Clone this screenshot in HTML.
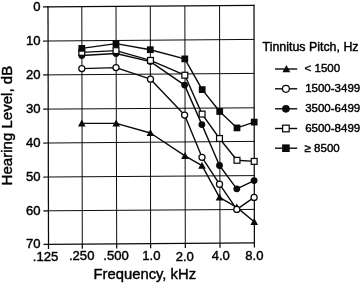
<!DOCTYPE html>
<html><head><meta charset="utf-8"><title>Hearing Level by Tinnitus Pitch</title>
<style>
html,body{margin:0;padding:0;background:#fff;}
body{width:360px;height:284px;overflow:hidden;}
svg{display:block;font-family:"Liberation Sans",Arial,Helvetica,sans-serif;fill:#000;}
text{stroke:#000;stroke-width:.42px;stroke-linejoin:round;}
.g line{stroke:#000;stroke-width:.95;}
.ax line{stroke:#0a0a0a;stroke-width:1.25;}
.d polyline,.d line{stroke:#0a0a0a;stroke-width:1.4;fill:none;stroke-linejoin:round;}
.fm{fill:#0a0a0a;stroke:none;}
.om{fill:#fff;stroke:#0a0a0a;stroke-width:1.25;}
.t{font-size:13.1px;}
.l{font-size:11.5px;}
</style></head><body>
<svg width="360" height="284" viewBox="0 0 360 284">
<rect width="360" height="284" fill="#fff"/>

<g class="g">
<line x1="81.8" y1="6.59" x2="82.3" y2="244.07"/>
<line x1="116" y1="6.37" x2="116.7" y2="243.83"/>
<line x1="150.3" y1="6.16" x2="150.6" y2="243.6"/>
<line x1="184.85" y1="5.94" x2="185.3" y2="243.37"/>
<line x1="219.55" y1="5.72" x2="220" y2="243.13"/>
<line x1="48.07" y1="41" x2="254.06" y2="39.4"/>
<line x1="48.14" y1="74.9" x2="254.11" y2="73.4"/>
<line x1="48.21" y1="109.1" x2="254.17" y2="107.8"/>
<line x1="48.29" y1="143" x2="254.23" y2="141.4"/>
<line x1="48.36" y1="177" x2="254.29" y2="175.6"/>
<line x1="48.43" y1="210.8" x2="254.34" y2="209.4"/>
</g>
<g class="ax">
<line x1="48" y1="6.8" x2="254" y2="5.5" stroke-linecap="square"/>
<line x1="254" y1="5.5" x2="254.4" y2="242.9" stroke-linecap="square"/>
<line x1="48.5" y1="244.3" x2="254.4" y2="242.9" stroke-linecap="square"/>
<line x1="48" y1="6.8" x2="48.5" y2="244.3" stroke-linecap="square"/>
<line x1="43" y1="6.85" x2="48" y2="6.8"/>
<line x1="43.07" y1="41.05" x2="48.07" y2="41"/>
<line x1="43.14" y1="74.95" x2="48.14" y2="74.9"/>
<line x1="43.21" y1="109.15" x2="48.21" y2="109.1"/>
<line x1="43.29" y1="143.05" x2="48.29" y2="143"/>
<line x1="43.36" y1="177.05" x2="48.36" y2="177"/>
<line x1="43.43" y1="210.85" x2="48.43" y2="210.8"/>
<line x1="43.5" y1="244.35" x2="48.5" y2="244.3"/>
<line x1="48.5" y1="244.3" x2="48.52" y2="248.9"/>
<line x1="82.3" y1="244.07" x2="82.32" y2="248.67"/>
<line x1="116.7" y1="243.83" x2="116.72" y2="248.43"/>
<line x1="150.6" y1="243.6" x2="150.62" y2="248.2"/>
<line x1="185.3" y1="243.37" x2="185.32" y2="247.97"/>
<line x1="220" y1="243.13" x2="220.02" y2="247.73"/>
<line x1="254.4" y1="242.9" x2="254.42" y2="247.5"/>
</g>
<g class="t">
<text x="40.6" y="10.95" text-anchor="end">0</text>
<text x="40.6" y="45.15" text-anchor="end">10</text>
<text x="40.6" y="79.05" text-anchor="end">20</text>
<text x="40.6" y="113.25" text-anchor="end">30</text>
<text x="40.6" y="147.15" text-anchor="end">40</text>
<text x="40.6" y="181.15" text-anchor="end">50</text>
<text x="40.6" y="214.95" text-anchor="end">60</text>
<text x="40.6" y="248.45" text-anchor="end">70</text>
<text x="45.5" y="260.5" text-anchor="middle">.125</text>
<text x="81.7" y="260.3" text-anchor="middle">.250</text>
<text x="116.1" y="260.3" text-anchor="middle">.500</text>
<text x="151.4" y="260.2" text-anchor="middle">1.0</text>
<text x="184.8" y="261" text-anchor="middle">2.0</text>
<text x="220.8" y="260.2" text-anchor="middle">4.0</text>
<text x="254.4" y="259.8" text-anchor="middle">8.0</text>
</g>
<text x="144.8" y="279" text-anchor="middle" font-size="14.8">Frequency, kHz</text>
<text transform="translate(12.4,125.6) rotate(-90)" text-anchor="middle" font-size="15.05">Hearing Level, dB</text>
<g class="d">
<polyline points="81.8,123.4 116.2,123.4 150.4,133 185,155.8 202,165.7 219.5,197.4 236.8,207.4 254.2,221.8"/>
<polygon class="fm" points="81.8,119.5 85.6,126.5 78,126.5"/>
<polygon class="fm" points="116.2,119.5 120,126.5 112.4,126.5"/>
<polygon class="fm" points="150.4,129.1 154.2,136.1 146.6,136.1"/>
<polygon class="fm" points="185,151.9 188.8,158.9 181.2,158.9"/>
<polygon class="fm" points="202,161.8 205.8,168.8 198.2,168.8"/>
<polygon class="fm" points="219.5,193.5 223.3,200.5 215.7,200.5"/>
<polygon class="fm" points="236.8,203.5 240.6,210.5 233,210.5"/>
<polygon class="fm" points="254.2,217.9 258,224.9 250.4,224.9"/>
<polyline points="81.8,68.6 116,67.6 150.5,79.2 184.6,115.1 202,157.3 219.5,184.2 236.8,209.4 254.1,197.4"/>
<circle class="om" cx="81.8" cy="68.6" r="3.05"/>
<circle class="om" cx="116" cy="67.6" r="3.05"/>
<circle class="om" cx="150.5" cy="79.2" r="3.05"/>
<circle class="om" cx="184.6" cy="115.1" r="3.05"/>
<circle class="om" cx="202" cy="157.3" r="3.05"/>
<circle class="om" cx="219.5" cy="184.2" r="3.05"/>
<circle class="om" cx="236.8" cy="209.4" r="3.05"/>
<circle class="om" cx="254.1" cy="197.4" r="3.05"/>
<polyline points="81.8,55.5 116,53.5 150.4,61.6 184.6,85.1 201.9,124.6 219.5,165.5 236.8,188.8 254.1,180.6"/>
<circle class="fm" cx="81.8" cy="55.5" r="3.4"/>
<circle class="fm" cx="116" cy="53.5" r="3.4"/>
<circle class="fm" cx="150.4" cy="61.6" r="3.4"/>
<circle class="fm" cx="184.6" cy="85.1" r="3.4"/>
<circle class="fm" cx="201.9" cy="124.6" r="3.4"/>
<circle class="fm" cx="219.5" cy="165.5" r="3.4"/>
<circle class="fm" cx="236.8" cy="188.8" r="3.4"/>
<circle class="fm" cx="254.1" cy="180.6" r="3.4"/>
<polyline points="81.8,52.4 116,50.6 150.5,60.4 184.8,75.2 202.1,114.1 219.5,138.5 237,160.3 254.2,161.4"/>
<rect class="om" x="78.88" y="49.48" width="5.85" height="5.85"/>
<rect class="om" x="113.08" y="47.68" width="5.85" height="5.85"/>
<rect class="om" x="147.57" y="57.48" width="5.85" height="5.85"/>
<rect class="om" x="181.88" y="72.28" width="5.85" height="5.85"/>
<rect class="om" x="199.17" y="111.17" width="5.85" height="5.85"/>
<rect class="om" x="216.57" y="135.57" width="5.85" height="5.85"/>
<rect class="om" x="234.07" y="157.38" width="5.85" height="5.85"/>
<rect class="om" x="251.27" y="158.47" width="5.85" height="5.85"/>
<polyline points="81.8,48.4 116,43.6 150.3,49.7 184.8,58.9 202.2,89.6 219.7,111.5 237,127.9 254.2,122.1"/>
<rect class="fm" x="78.42" y="45.02" width="6.75" height="6.75"/>
<rect class="fm" x="112.62" y="40.23" width="6.75" height="6.75"/>
<rect class="fm" x="146.93" y="46.33" width="6.75" height="6.75"/>
<rect class="fm" x="181.43" y="55.52" width="6.75" height="6.75"/>
<rect class="fm" x="198.82" y="86.22" width="6.75" height="6.75"/>
<rect class="fm" x="216.32" y="108.12" width="6.75" height="6.75"/>
<rect class="fm" x="233.62" y="124.53" width="6.75" height="6.75"/>
<rect class="fm" x="250.82" y="118.72" width="6.75" height="6.75"/>
</g>
<text x="262.6" y="51.3" font-size="12.4">Tinnitus Pitch, Hz</text>
<g class="d">
<line x1="275" y1="69.0" x2="297.2" y2="69.0"/>
<polygon class="fm" points="286.4,65 290.39,72.35 282.41,72.35"/>
<line x1="275" y1="88.8" x2="297.2" y2="88.8"/>
<circle class="om" cx="285.9" cy="88.8" r="3.45"/>
<line x1="275" y1="108.8" x2="297.2" y2="108.8"/>
<circle class="fm" cx="285.9" cy="108.8" r="3.84"/>
<line x1="275" y1="128.5" x2="297.2" y2="128.5"/>
<rect class="om" x="282.59" y="125.19" width="6.61" height="6.61"/>
<line x1="275" y1="148.2" x2="297.2" y2="148.2"/>
<rect class="fm" x="282.09" y="144.39" width="7.63" height="7.63"/>
</g>
<g class="l">
<text x="304.6" y="72.4">&lt; 1500</text>
<text x="305.2" y="92.2">1500-3499</text>
<text x="305.2" y="112.2">3500-6499</text>
<text x="305.2" y="131.9">6500-8499</text>
<text x="304.6" y="151.6">≥ 8500</text>
</g>
</svg></body></html>
